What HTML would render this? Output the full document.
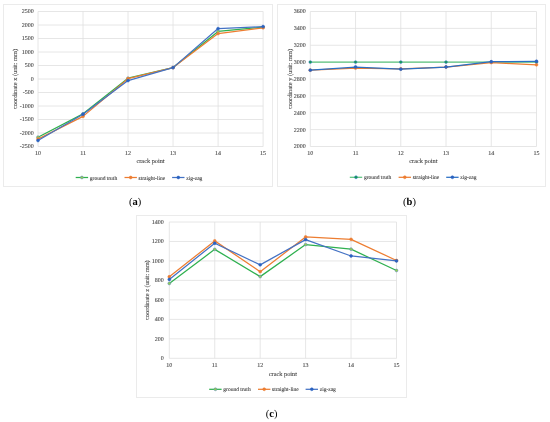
<!DOCTYPE html>
<html><head><meta charset="utf-8"><style>
html,body{margin:0;padding:0;background:#fff;}
body{width:550px;height:422px;overflow:hidden;}
svg{display:block;filter:blur(0.3px);}
text{font-family:"Liberation Serif","Times New Roman",serif;text-rendering:geometricPrecision;}
.t{font-size:6.0px;fill:#4d4d4d;stroke:#4d4d4d;stroke-width:0.12px;}
.ti{font-size:6.3px;fill:#4d4d4d;stroke:#4d4d4d;stroke-width:0.12px;}
.l{font-size:5.5px;fill:#444444;stroke:#444444;stroke-width:0.12px;}
.cap{font-size:10.5px;fill:#000;}
</style></head><body>
<svg width="550" height="422" viewBox="0 0 550 422">
<rect width="550" height="422" fill="#fff"/>
<rect x="3.5" y="4.5" width="269" height="182" fill="#fff" stroke="#ebebeb" stroke-width="1"/>
<path d="M38 146.5H263.1 M38 133H263.1 M38 119.5H263.1 M38 106H263.1 M38 92.5H263.1 M38 79H263.1 M38 65.5H263.1 M38 52H263.1 M38 38.5H263.1 M38 25H263.1 M38 11.5H263.1 M38 11.5V146.5 M83.02 11.5V146.5 M128.04 11.5V146.5 M173.06 11.5V146.5 M218.08 11.5V146.5 M263.1 11.5V146.5" stroke="#e0e0e0" stroke-width="0.8" fill="none"/>
<text class="t" x="33.8" y="148.4" text-anchor="end">-2500</text>
<text class="t" x="33.8" y="134.9" text-anchor="end">-2000</text>
<text class="t" x="33.8" y="121.4" text-anchor="end">-1500</text>
<text class="t" x="33.8" y="107.9" text-anchor="end">-1000</text>
<text class="t" x="33.8" y="94.4" text-anchor="end">-500</text>
<text class="t" x="33.8" y="80.9" text-anchor="end">0</text>
<text class="t" x="33.8" y="67.4" text-anchor="end">500</text>
<text class="t" x="33.8" y="53.9" text-anchor="end">1000</text>
<text class="t" x="33.8" y="40.4" text-anchor="end">1500</text>
<text class="t" x="33.8" y="26.9" text-anchor="end">2000</text>
<text class="t" x="33.8" y="13.4" text-anchor="end">2500</text>
<text class="t" x="38" y="155.2" text-anchor="middle">10</text>
<text class="t" x="83.02" y="155.2" text-anchor="middle">11</text>
<text class="t" x="128.04" y="155.2" text-anchor="middle">12</text>
<text class="t" x="173.06" y="155.2" text-anchor="middle">13</text>
<text class="t" x="218.08" y="155.2" text-anchor="middle">14</text>
<text class="t" x="263.1" y="155.2" text-anchor="middle">15</text>
<text class="ti" x="150.55" y="163.3" text-anchor="middle">crack point</text>
<text class="ti" transform="translate(17.1 79) rotate(-90)" text-anchor="middle">coordinate x (unit: mm)</text>
<polyline points="38,137.21 83.02,113.83 128.04,78.19 173.06,67.61 218.08,31.4 263.1,27.16" fill="none" stroke="#2eb04f" stroke-width="1.25" stroke-linejoin="round"/>
<circle cx="38" cy="137.21" r="1.45" fill="#92d050" stroke="#5b7fc8" stroke-width="0.5"/>
<circle cx="83.02" cy="113.83" r="1.45" fill="#92d050" stroke="#5b7fc8" stroke-width="0.5"/>
<circle cx="128.04" cy="78.19" r="1.45" fill="#92d050" stroke="#5b7fc8" stroke-width="0.5"/>
<circle cx="173.06" cy="67.61" r="1.45" fill="#92d050" stroke="#5b7fc8" stroke-width="0.5"/>
<circle cx="218.08" cy="31.4" r="1.45" fill="#92d050" stroke="#5b7fc8" stroke-width="0.5"/>
<circle cx="263.1" cy="27.16" r="1.45" fill="#92d050" stroke="#5b7fc8" stroke-width="0.5"/>
<polyline points="38,139.1 83.02,116.39 128.04,78.73 173.06,67.61 218.08,33.61 263.1,27.83" fill="none" stroke="#ed7d31" stroke-width="1.25" stroke-linejoin="round"/>
<circle cx="38" cy="139.1" r="1.45" fill="#ed7d31" stroke="#ed7d31" stroke-width="0.5"/>
<circle cx="83.02" cy="116.39" r="1.45" fill="#ed7d31" stroke="#ed7d31" stroke-width="0.5"/>
<circle cx="128.04" cy="78.73" r="1.45" fill="#ed7d31" stroke="#ed7d31" stroke-width="0.5"/>
<circle cx="173.06" cy="67.61" r="1.45" fill="#ed7d31" stroke="#ed7d31" stroke-width="0.5"/>
<circle cx="218.08" cy="33.61" r="1.45" fill="#ed7d31" stroke="#ed7d31" stroke-width="0.5"/>
<circle cx="263.1" cy="27.83" r="1.45" fill="#ed7d31" stroke="#ed7d31" stroke-width="0.5"/>
<polyline points="38,140.51 83.02,114.21 128.04,80.62 173.06,67.61 218.08,28.59 263.1,26.59" fill="none" stroke="#4472c4" stroke-width="1.25" stroke-linejoin="round"/>
<circle cx="38" cy="140.51" r="1.45" fill="#2a62c0" stroke="#2a62c0" stroke-width="0.5"/>
<circle cx="83.02" cy="114.21" r="1.45" fill="#2a62c0" stroke="#2a62c0" stroke-width="0.5"/>
<circle cx="128.04" cy="80.62" r="1.45" fill="#2a62c0" stroke="#2a62c0" stroke-width="0.5"/>
<circle cx="173.06" cy="67.61" r="1.45" fill="#2a62c0" stroke="#2a62c0" stroke-width="0.5"/>
<circle cx="218.08" cy="28.59" r="1.45" fill="#2a62c0" stroke="#2a62c0" stroke-width="0.5"/>
<circle cx="263.1" cy="26.59" r="1.45" fill="#2a62c0" stroke="#2a62c0" stroke-width="0.5"/>
<path d="M75.7 177.5H88.1" stroke="#2eb04f" stroke-width="1.25"/>
<circle cx="81.9" cy="177.5" r="1.45" fill="#92d050" stroke="#5b7fc8" stroke-width="0.5"/>
<text class="l" x="89.8" y="179.6">ground truth</text>
<path d="M124.5 177.5H136.9" stroke="#ed7d31" stroke-width="1.25"/>
<circle cx="130.7" cy="177.5" r="1.45" fill="#ed7d31" stroke="#ed7d31" stroke-width="0.5"/>
<text class="l" x="138.6" y="179.6">straight-line</text>
<path d="M172.1 177.5H184.5" stroke="#4472c4" stroke-width="1.25"/>
<circle cx="178.3" cy="177.5" r="1.45" fill="#2a62c0" stroke="#2a62c0" stroke-width="0.5"/>
<text class="l" x="186.2" y="179.6">zig-zag</text>
<text class="cap" x="135" y="204.8" text-anchor="middle">(<tspan font-weight="bold">a</tspan>)</text>
<rect x="277.5" y="4.5" width="268" height="182" fill="#fff" stroke="#ebebeb" stroke-width="1"/>
<path d="M310.3 146.5H536.5 M310.3 129.62H536.5 M310.3 112.75H536.5 M310.3 95.88H536.5 M310.3 79H536.5 M310.3 62.12H536.5 M310.3 45.25H536.5 M310.3 28.38H536.5 M310.3 11.5H536.5 M310.3 11.5V146.5 M355.54 11.5V146.5 M400.78 11.5V146.5 M446.02 11.5V146.5 M491.26 11.5V146.5 M536.5 11.5V146.5" stroke="#e0e0e0" stroke-width="0.8" fill="none"/>
<text class="t" x="305.7" y="148.4" text-anchor="end">2000</text>
<text class="t" x="305.7" y="131.53" text-anchor="end">2200</text>
<text class="t" x="305.7" y="114.65" text-anchor="end">2400</text>
<text class="t" x="305.7" y="97.78" text-anchor="end">2600</text>
<text class="t" x="305.7" y="80.9" text-anchor="end">2800</text>
<text class="t" x="305.7" y="64.03" text-anchor="end">3000</text>
<text class="t" x="305.7" y="47.15" text-anchor="end">3200</text>
<text class="t" x="305.7" y="30.27" text-anchor="end">3400</text>
<text class="t" x="305.7" y="13.4" text-anchor="end">3600</text>
<text class="t" x="310.3" y="155.2" text-anchor="middle">10</text>
<text class="t" x="355.54" y="155.2" text-anchor="middle">11</text>
<text class="t" x="400.78" y="155.2" text-anchor="middle">12</text>
<text class="t" x="446.02" y="155.2" text-anchor="middle">13</text>
<text class="t" x="491.26" y="155.2" text-anchor="middle">14</text>
<text class="t" x="536.5" y="155.2" text-anchor="middle">15</text>
<text class="ti" x="423.4" y="163.3" text-anchor="middle">crack point</text>
<text class="ti" transform="translate(292.1 79) rotate(-90)" text-anchor="middle">coordinate y (unit: mm)</text>
<polyline points="310.3,62.12 355.54,62.12 400.78,62.12 446.02,62.12 491.26,62.12 536.5,62.12" fill="none" stroke="#5cc57f" stroke-width="1.25" stroke-linejoin="round"/>
<circle cx="310.3" cy="62.12" r="1.45" fill="#12a04e" stroke="#3a6fd0" stroke-width="0.5"/>
<circle cx="355.54" cy="62.12" r="1.45" fill="#12a04e" stroke="#3a6fd0" stroke-width="0.5"/>
<circle cx="400.78" cy="62.12" r="1.45" fill="#12a04e" stroke="#3a6fd0" stroke-width="0.5"/>
<circle cx="446.02" cy="62.12" r="1.45" fill="#12a04e" stroke="#3a6fd0" stroke-width="0.5"/>
<circle cx="491.26" cy="62.12" r="1.45" fill="#12a04e" stroke="#3a6fd0" stroke-width="0.5"/>
<circle cx="536.5" cy="62.12" r="1.45" fill="#12a04e" stroke="#3a6fd0" stroke-width="0.5"/>
<polyline points="310.3,70.14 355.54,68.12 400.78,68.88 446.02,67.02 491.26,62.55 536.5,64.83" fill="none" stroke="#ed7d31" stroke-width="1.25" stroke-linejoin="round"/>
<circle cx="310.3" cy="70.14" r="1.45" fill="#ed7d31" stroke="#ed7d31" stroke-width="0.5"/>
<circle cx="355.54" cy="68.12" r="1.45" fill="#ed7d31" stroke="#ed7d31" stroke-width="0.5"/>
<circle cx="400.78" cy="68.88" r="1.45" fill="#ed7d31" stroke="#ed7d31" stroke-width="0.5"/>
<circle cx="446.02" cy="67.02" r="1.45" fill="#ed7d31" stroke="#ed7d31" stroke-width="0.5"/>
<circle cx="491.26" cy="62.55" r="1.45" fill="#ed7d31" stroke="#ed7d31" stroke-width="0.5"/>
<circle cx="536.5" cy="64.83" r="1.45" fill="#ed7d31" stroke="#ed7d31" stroke-width="0.5"/>
<polyline points="310.3,70.14 355.54,67.02 400.78,69.21 446.02,67.02 491.26,61.7 536.5,61.28" fill="none" stroke="#2a6fc4" stroke-width="1.25" stroke-linejoin="round"/>
<circle cx="310.3" cy="70.14" r="1.45" fill="#2a62c0" stroke="#2a62c0" stroke-width="0.5"/>
<circle cx="355.54" cy="67.02" r="1.45" fill="#2a62c0" stroke="#2a62c0" stroke-width="0.5"/>
<circle cx="400.78" cy="69.21" r="1.45" fill="#2a62c0" stroke="#2a62c0" stroke-width="0.5"/>
<circle cx="446.02" cy="67.02" r="1.45" fill="#2a62c0" stroke="#2a62c0" stroke-width="0.5"/>
<circle cx="491.26" cy="61.7" r="1.45" fill="#2a62c0" stroke="#2a62c0" stroke-width="0.5"/>
<circle cx="536.5" cy="61.28" r="1.45" fill="#2a62c0" stroke="#2a62c0" stroke-width="0.5"/>
<path d="M349.8 177.3H362.2" stroke="#5cc57f" stroke-width="1.25"/>
<circle cx="356" cy="177.3" r="1.45" fill="#12a04e" stroke="#3a6fd0" stroke-width="0.5"/>
<text class="l" x="363.9" y="179.4">ground truth</text>
<path d="M398.6 177.3H411" stroke="#ed7d31" stroke-width="1.25"/>
<circle cx="404.8" cy="177.3" r="1.45" fill="#ed7d31" stroke="#ed7d31" stroke-width="0.5"/>
<text class="l" x="412.7" y="179.4">straight-line</text>
<path d="M446.2 177.3H458.6" stroke="#2a6fc4" stroke-width="1.25"/>
<circle cx="452.4" cy="177.3" r="1.45" fill="#2a62c0" stroke="#2a62c0" stroke-width="0.5"/>
<text class="l" x="460.3" y="179.4">zig-zag</text>
<text class="cap" x="409.5" y="204.8" text-anchor="middle">(<tspan font-weight="bold">b</tspan>)</text>
<rect x="136.5" y="215.5" width="270" height="182" fill="#fff" stroke="#ebebeb" stroke-width="1"/>
<path d="M169.3 358.3H396.5 M169.3 338.83H396.5 M169.3 319.36H396.5 M169.3 299.89H396.5 M169.3 280.41H396.5 M169.3 260.94H396.5 M169.3 241.47H396.5 M169.3 222H396.5 M169.3 222V358.3 M214.74 222V358.3 M260.18 222V358.3 M305.62 222V358.3 M351.06 222V358.3 M396.5 222V358.3" stroke="#e0e0e0" stroke-width="0.8" fill="none"/>
<text class="t" x="163.7" y="360.2" text-anchor="end">0</text>
<text class="t" x="163.7" y="340.73" text-anchor="end">200</text>
<text class="t" x="163.7" y="321.26" text-anchor="end">400</text>
<text class="t" x="163.7" y="301.79" text-anchor="end">600</text>
<text class="t" x="163.7" y="282.31" text-anchor="end">800</text>
<text class="t" x="163.7" y="262.84" text-anchor="end">1000</text>
<text class="t" x="163.7" y="243.37" text-anchor="end">1200</text>
<text class="t" x="163.7" y="223.9" text-anchor="end">1400</text>
<text class="t" x="169.3" y="367" text-anchor="middle">10</text>
<text class="t" x="214.74" y="367" text-anchor="middle">11</text>
<text class="t" x="260.18" y="367" text-anchor="middle">12</text>
<text class="t" x="305.62" y="367" text-anchor="middle">13</text>
<text class="t" x="351.06" y="367" text-anchor="middle">14</text>
<text class="t" x="396.5" y="367" text-anchor="middle">15</text>
<text class="ti" x="282.9" y="375.5" text-anchor="middle">crack point</text>
<text class="ti" transform="translate(148.8 290.15) rotate(-90)" text-anchor="middle">coordinate z (unit: mm)</text>
<polyline points="169.3,283.43 214.74,249.36 260.18,276.62 305.62,244.59 351.06,249.16 396.5,270.48" fill="none" stroke="#2eb04f" stroke-width="1.25" stroke-linejoin="round"/>
<circle cx="169.3" cy="283.43" r="1.45" fill="#92d050" stroke="#5b7fc8" stroke-width="0.5"/>
<circle cx="214.74" cy="249.36" r="1.45" fill="#92d050" stroke="#5b7fc8" stroke-width="0.5"/>
<circle cx="260.18" cy="276.62" r="1.45" fill="#92d050" stroke="#5b7fc8" stroke-width="0.5"/>
<circle cx="305.62" cy="244.59" r="1.45" fill="#92d050" stroke="#5b7fc8" stroke-width="0.5"/>
<circle cx="351.06" cy="249.16" r="1.45" fill="#92d050" stroke="#5b7fc8" stroke-width="0.5"/>
<circle cx="396.5" cy="270.48" r="1.45" fill="#92d050" stroke="#5b7fc8" stroke-width="0.5"/>
<polyline points="169.3,276.81 214.74,240.89 260.18,271.65 305.62,236.99 351.06,239.33 396.5,260.46" fill="none" stroke="#ed7d31" stroke-width="1.25" stroke-linejoin="round"/>
<circle cx="169.3" cy="276.81" r="1.45" fill="#ed7d31" stroke="#ed7d31" stroke-width="0.5"/>
<circle cx="214.74" cy="240.89" r="1.45" fill="#ed7d31" stroke="#ed7d31" stroke-width="0.5"/>
<circle cx="260.18" cy="271.65" r="1.45" fill="#ed7d31" stroke="#ed7d31" stroke-width="0.5"/>
<circle cx="305.62" cy="236.99" r="1.45" fill="#ed7d31" stroke="#ed7d31" stroke-width="0.5"/>
<circle cx="351.06" cy="239.33" r="1.45" fill="#ed7d31" stroke="#ed7d31" stroke-width="0.5"/>
<circle cx="396.5" cy="260.46" r="1.45" fill="#ed7d31" stroke="#ed7d31" stroke-width="0.5"/>
<polyline points="169.3,279.44 214.74,243.22 260.18,264.84 305.62,239.62 351.06,255.98 396.5,260.94" fill="none" stroke="#4472c4" stroke-width="1.25" stroke-linejoin="round"/>
<circle cx="169.3" cy="279.44" r="1.45" fill="#2a62c0" stroke="#2a62c0" stroke-width="0.5"/>
<circle cx="214.74" cy="243.22" r="1.45" fill="#2a62c0" stroke="#2a62c0" stroke-width="0.5"/>
<circle cx="260.18" cy="264.84" r="1.45" fill="#2a62c0" stroke="#2a62c0" stroke-width="0.5"/>
<circle cx="305.62" cy="239.62" r="1.45" fill="#2a62c0" stroke="#2a62c0" stroke-width="0.5"/>
<circle cx="351.06" cy="255.98" r="1.45" fill="#2a62c0" stroke="#2a62c0" stroke-width="0.5"/>
<circle cx="396.5" cy="260.94" r="1.45" fill="#2a62c0" stroke="#2a62c0" stroke-width="0.5"/>
<path d="M209.2 389.3H221.6" stroke="#2eb04f" stroke-width="1.25"/>
<circle cx="215.4" cy="389.3" r="1.45" fill="#92d050" stroke="#5b7fc8" stroke-width="0.5"/>
<text class="l" x="223.3" y="391.4">ground truth</text>
<path d="M258 389.3H270.4" stroke="#ed7d31" stroke-width="1.25"/>
<circle cx="264.2" cy="389.3" r="1.45" fill="#ed7d31" stroke="#ed7d31" stroke-width="0.5"/>
<text class="l" x="272.1" y="391.4">straight-line</text>
<path d="M305.6 389.3H318" stroke="#4472c4" stroke-width="1.25"/>
<circle cx="311.8" cy="389.3" r="1.45" fill="#2a62c0" stroke="#2a62c0" stroke-width="0.5"/>
<text class="l" x="319.7" y="391.4">zig-zag</text>
<text class="cap" x="271.7" y="416.9" text-anchor="middle">(<tspan font-weight="bold">c</tspan>)</text>
</svg>
</body></html>
